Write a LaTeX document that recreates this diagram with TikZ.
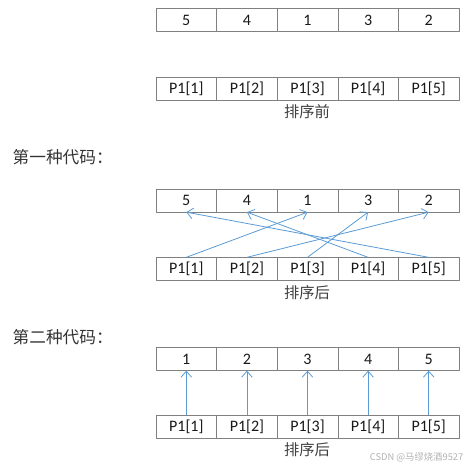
\documentclass[tikz,border=0pt]{standalone}
\usepackage{fontspec}
\setmainfont{Carlito}
\newfontfamily\cjk{Noto Sans CJK SC}
\usepackage{xcolor}
\usetikzlibrary{arrows.meta}
\definecolor{arrowblue}{RGB}{91,155,213}
\definecolor{cellgray}{RGB}{128,128,128}

\begin{document}
\begin{tikzpicture}[x=0.75pt, y=-0.75pt, line join=round,
    cell/.style={draw=cellgray, fill=white, minimum width=45.45pt, minimum height=17.5pt,
      inner sep=0pt, outer sep=0pt, text=black!90, font=\fontsize{12}{14}\selectfont},
    ptr/.style={draw=arrowblue, line width=0.6pt, -{Straight Barb[length=4.5pt,width=8pt]}},
    caption/.style={font=\cjk\fontsize{11.5}{13}\selectfont, text=black!75},
    heading/.style={font=\cjk\fontsize{12.5}{14}\selectfont, text=black!80, anchor=west}]
    \useasboundingbox (0,0) rectangle (474,466);
    % Ausgangszustand: Werte und Zeiger
    \foreach \v [count=\i] in {5,4,1,3,2} {
      \node[cell] (valA\i) at ({156+60.6*(\i-0.5)},20) {\v};
      \node[cell] (idxA\i) at ({156+60.6*(\i-0.5)},88.5) {P1[\i]};
    }
    \node[caption] (capA) at (307,112) {排序前};
    % Erste Variante
    \node[heading] (headB) at (8,157) {第一种代码：};
    \foreach \v [count=\i] in {5,4,1,3,2} {
      \node[cell] (valB\i) at ({156+60.6*(\i-0.5)},200.5) {\v};
      \node[cell] (idxB\i) at ({156+60.6*(\i-0.5)},269) {P1[\i]};
    }
    \foreach \s/\t in {1/3, 2/5, 3/4, 4/2, 5/1}
      \draw[ptr] (idxB\s.north) -- (valB\t.south);
    \node[caption] (capB) at (307,293) {排序后};
    % Zweite Variante
    \node[heading] (headC) at (8,337) {第二种代码：};
    \foreach \v [count=\i] in {1,2,3,4,5} {
      \node[cell] (valC\i) at ({156+60.6*(\i-0.5)},359) {\v};
      \node[cell] (idxC\i) at ({156+60.6*(\i-0.5)},427) {P1[\i]};
      \draw[ptr] (idxC\i.north) -- (valC\i.south);
    }
    \node[caption] (capC) at (307,450) {排序后};
    \node[font=\cjk\fontsize{7}{8}\selectfont, text=black!30, anchor=east] (mark) at (468,457) {CSDN @马缪烧酒9527};
\end{tikzpicture}
\end{document}
